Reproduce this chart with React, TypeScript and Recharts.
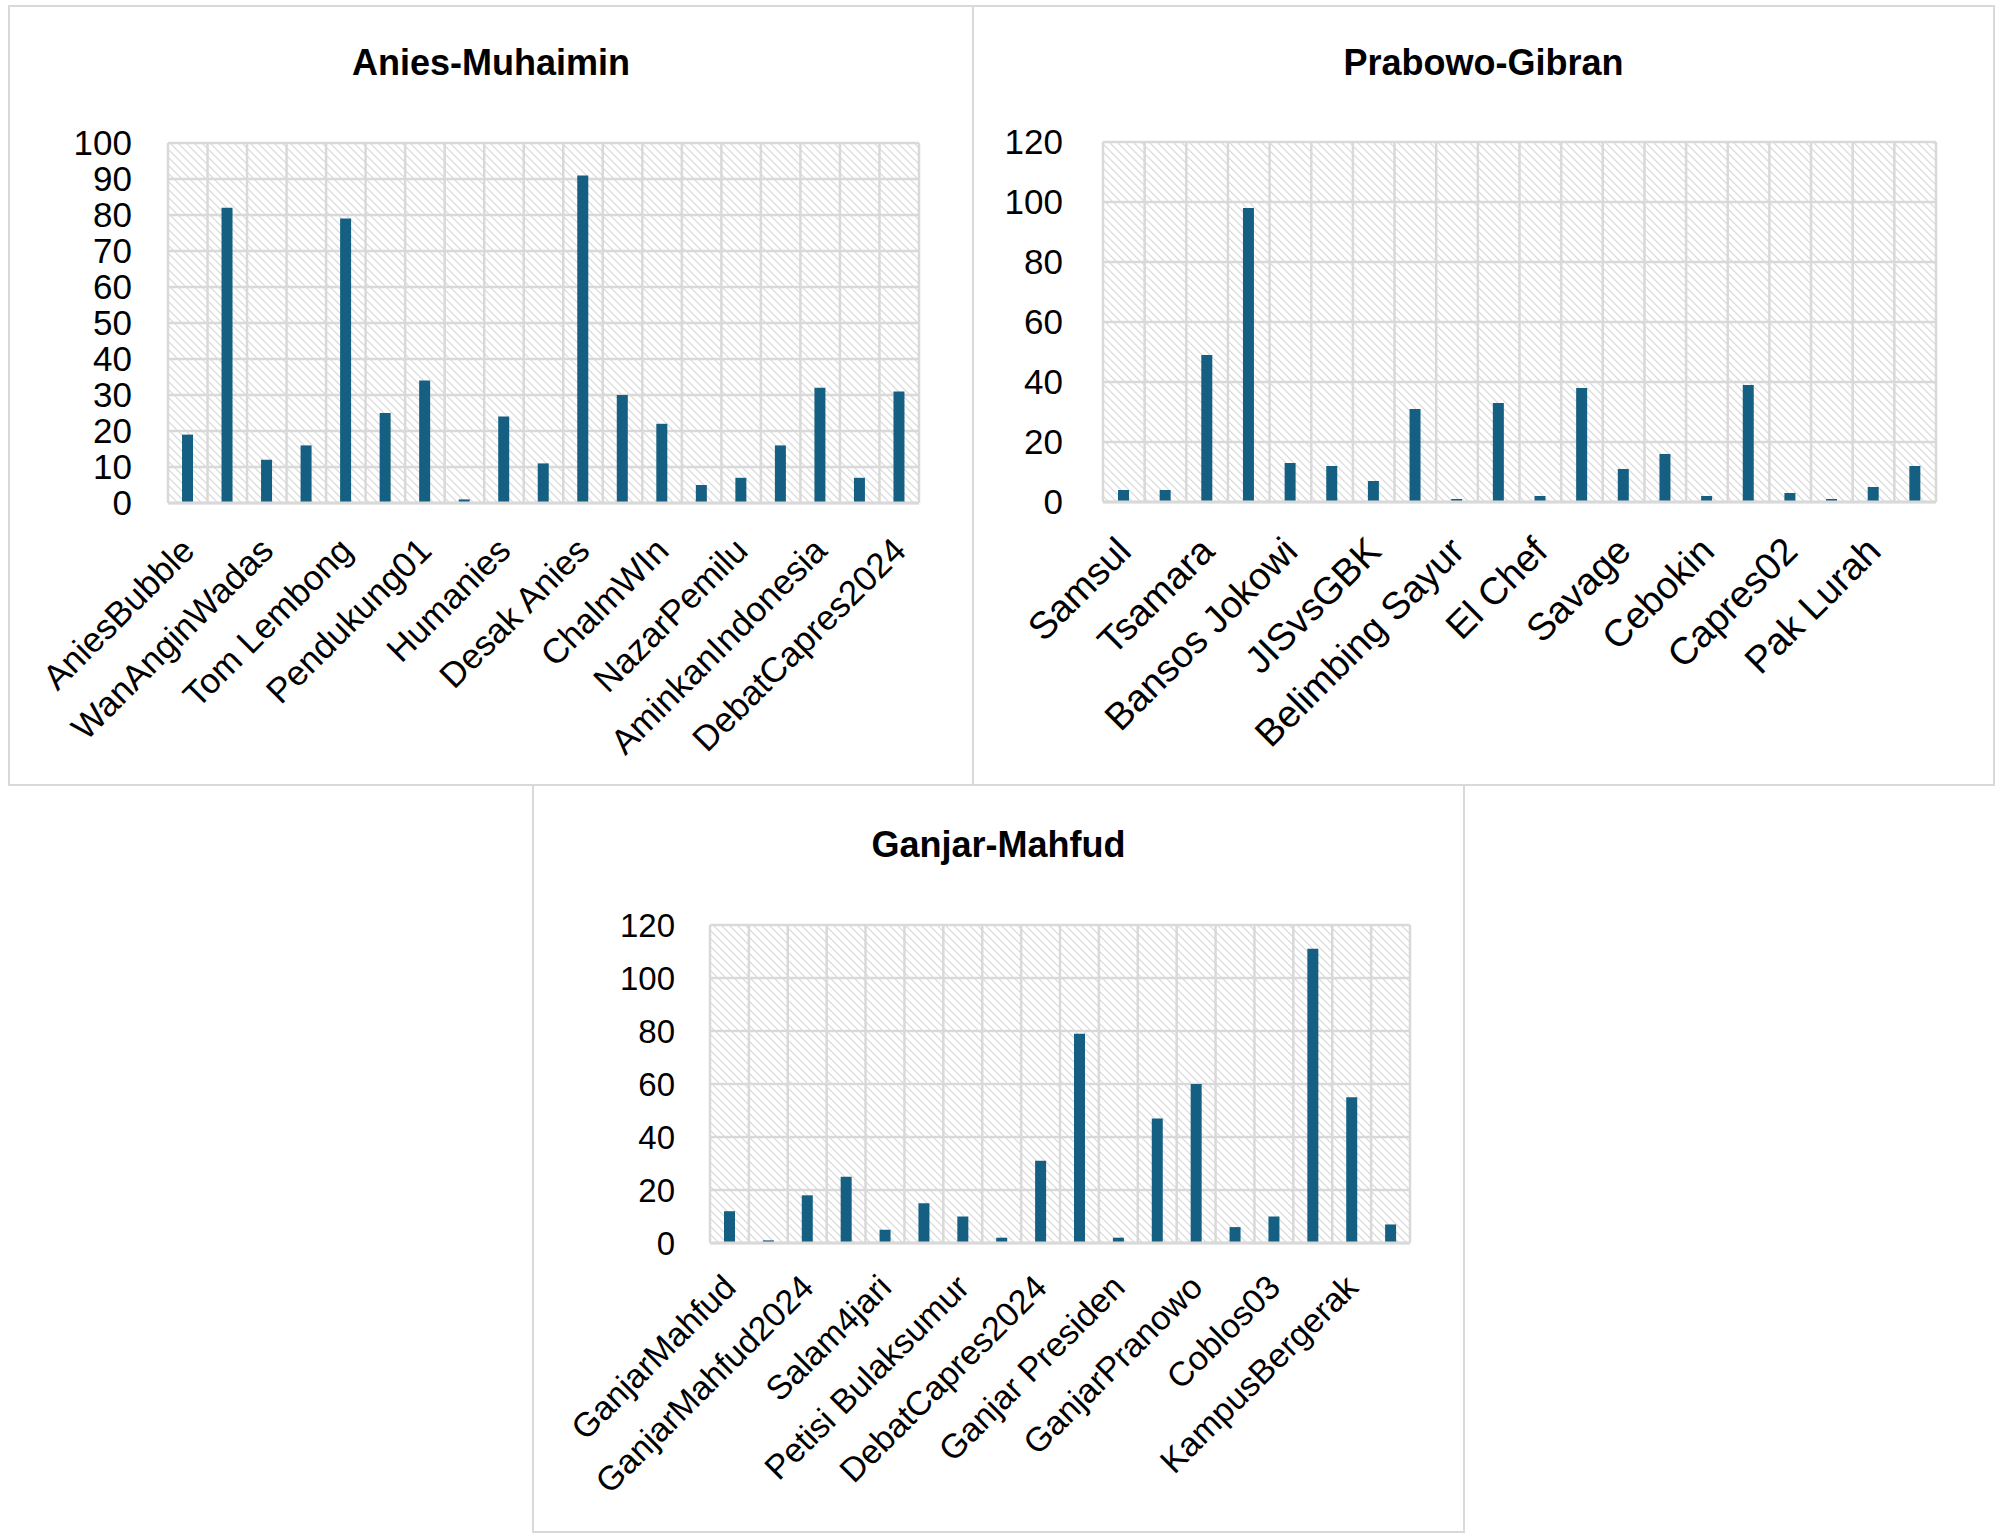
import React from 'react';
import { BarChart, Bar, XAxis, YAxis, CartesianGrid } from 'recharts';

// Anies-Muhaimin (label shown on every other category, hidden ones left blank)
const aniesCategories = [
  'AniesBubble', '', 'WanAnginWadas', '', 'Tom Lembong', '', 'Pendukung01', '', 'Humanies', '',
  'Desak Anies', '', 'ChalmWIn', '', 'NazarPemilu', '', 'AminkanIndonesia', '', 'DebatCapres2024',
];
const aniesValues = [19, 82, 12, 16, 79, 25, 34, 1, 24, 11, 91, 30, 22, 5, 7, 16, 32, 7, 31];
const aniesTicks = [0, 10, 20, 30, 40, 50, 60, 70, 80, 90, 100];

// Prabowo-Gibran
const prabowoCategories = [
  'Samsul', '', 'Tsamara', '', 'Bansos Jokowi', '', 'JISvsGBK', '', 'Belimbing Sayur', '',
  'El Chef', '', 'Savage', '', 'Cebokin', '', 'Capres02', '', 'Pak Lurah', '',
];
const prabowoValues = [4, 4, 49, 98, 13, 12, 7, 31, 1, 33, 2, 38, 11, 16, 2, 39, 3, 1, 5, 12];
const prabowoTicks = [0, 20, 40, 60, 80, 100, 120];

// Ganjar-Mahfud
const ganjarCategories = [
  'GanjarMahfud', '', 'GanjarMahfud2024', '', 'Salam4jari', '', 'Petisi Bulaksumur', '',
  'DebatCapres2024', '', 'Ganjar Presiden', '', 'GanjarPranowo', '', 'Coblos03', '', 'KampusBergerak', '',
];
const ganjarValues = [12, 1, 18, 25, 5, 15, 10, 2, 31, 79, 2, 47, 60, 6, 10, 111, 55, 7];
const ganjarTicks = [0, 20, 40, 60, 80, 100, 120];

const BAR_COLOR = '#156082';
const GRID_COLOR = '#d9d9d9';
const FONT = '"Liberation Sans", Arial, sans-serif';

// label end sits on the tick, text middle line through it, rotated 45°
const RotatedTick = (props: any) => {
  const { x, y, payload, size } = props;
  return (
    <g transform={`translate(${x},${y})`}>
      <text
        transform="rotate(-45)"
        textAnchor="end"
        dy="0.35em"
        fontSize={size}
        fontFamily={FONT}
        fill="#000"
      >
        {payload.value}
      </text>
    </g>
  );
};

interface PanelProps {
  title: string;
  categories: string[];
  values: number[];
  ticks: number[];
  left: number;
  top: number;
  width: number;
  height: number;
  plot: { left: number; top: number; right: number; bottom: number };
  labelGap: number;
  yFont: number;
  xFont: number;
  xGap: number;
  titleTop: number;
}

function Panel(p: PanelProps) {
  const { title, categories, values, ticks, left, top, width, height, plot } = p;
  const data = categories.map((name, i) => ({ name, value: values[i] }));
  const innerW = width - 4;
  const innerH = height - 4;
  const n = data.length;
  return (
    <div
      style={{
        position: 'absolute', left, top, width, height, boxSizing: 'border-box',
        border: `2px solid ${GRID_COLOR}`, background: '#fff',
      }}
    >
      <div
        style={{
          position: 'absolute', left: 0, top: p.titleTop, width: innerW, textAlign: 'center',
          fontFamily: FONT, fontWeight: 700, fontSize: 36, lineHeight: '36px', color: '#000',
        }}
      >
        {title}
      </div>
      <div style={{ position: 'absolute', left: 0, top: 0 }}>
        <BarChart
          width={innerW}
          height={innerH}
          data={data}
          margin={{ top: plot.top, right: innerW - plot.right, left: 0, bottom: 0 }}
        >
          <CartesianGrid
            fill="url(#hatch)"
            fillOpacity={1}
            stroke={GRID_COLOR}
            strokeWidth={2.5}
            verticalCoordinatesGenerator={({ offset }: any) =>
              Array.from({ length: n + 1 }, (_, i) => offset.left + (i * offset.width) / n)
            }
          />
          <XAxis
            dataKey="name"
            interval={0}
            tickLine={false}
            tickSize={0}
            tickMargin={p.xGap}
            axisLine={{ stroke: GRID_COLOR, strokeWidth: 3 }}
            height={innerH - plot.bottom}
            tick={<RotatedTick size={p.xFont} />}
          />
          <YAxis
            domain={[ticks[0], ticks[ticks.length - 1]]}
            ticks={ticks}
            interval={0}
            width={plot.left}
            axisLine={false}
            tickLine={false}
            tickSize={0}
            tickMargin={p.labelGap}
            tick={{ fontSize: p.yFont, fill: '#000', fontFamily: FONT }}
          />
          <Bar dataKey="value" fill={BAR_COLOR} barSize={11} isAnimationActive={false} />
        </BarChart>
      </div>
    </div>
  );
}

export default function App() {
  return (
    <div style={{ position: 'absolute', left: 0, top: 0, width: 2000, height: 1536, background: '#fff', overflow: 'hidden' }}>
      <svg width={0} height={0} style={{ position: 'absolute' }}>
        <defs>
          <pattern id="hatch" patternUnits="userSpaceOnUse" width={8} height={8}>
            <rect width={8} height={8} fill="#fff" />
            <path d="M-2,-2 L10,10 M-2,6 L2,10 M6,-2 L10,2" stroke="#d6d6d6" strokeWidth={1.1} />
          </pattern>
        </defs>
      </svg>
      <Panel
        title="Anies-Muhaimin"
        categories={aniesCategories}
        values={aniesValues}
        ticks={aniesTicks}
        left={8}
        top={5}
        width={966}
        height={781}
        plot={{ left: 158, top: 136, right: 909, bottom: 496 }}
        labelGap={36}
        yFont={35}
        xFont={35}
        xGap={41}
        titleTop={38}
      />
      <Panel
        title="Prabowo-Gibran"
        categories={prabowoCategories}
        values={prabowoValues}
        ticks={prabowoTicks}
        left={972}
        top={5}
        width={1023}
        height={781}
        plot={{ left: 129, top: 135, right: 962, bottom: 495 }}
        labelGap={40}
        yFont={35}
        xFont={38}
        xGap={42}
        titleTop={38}
      />
      <Panel
        title="Ganjar-Mahfud"
        categories={ganjarCategories}
        values={ganjarValues}
        ticks={ganjarTicks}
        left={532}
        top={784}
        width={933}
        height={749}
        plot={{ left: 176, top: 139, right: 876, bottom: 457 }}
        labelGap={35}
        yFont={33}
        xFont={34}
        xGap={38}
        titleTop={41}
      />
    </div>
  );
}
